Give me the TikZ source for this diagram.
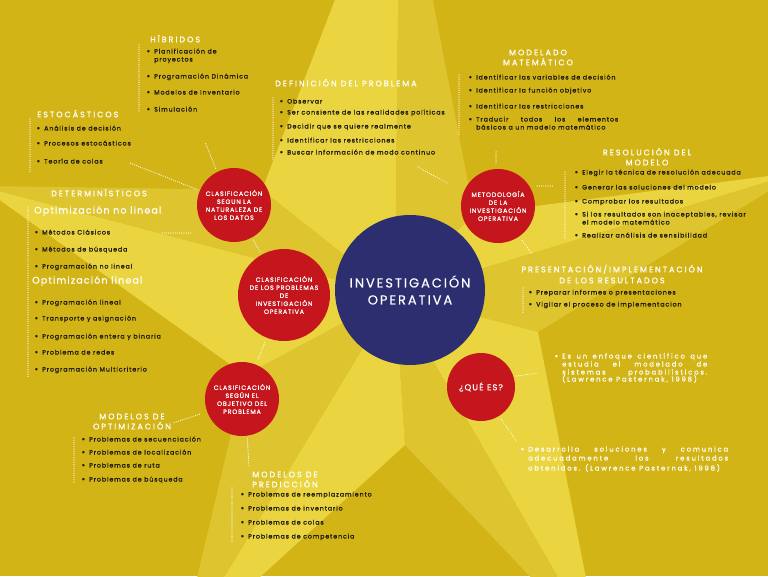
\documentclass[tikz,border=0pt]{standalone}
\usepackage{fontspec}
\setmainfont{Poppins}
\newfontfamily\popI[LetterSpace=14, FakeBold=0.9]{Poppins}
\newfontfamily\popW[LetterSpace=27, FakeBold=0.4]{Poppins}
\newfontfamily\popT[LetterSpace=25, FakeBold=0.7]{Poppins}
\newfontfamily\popC[LetterSpace=13, FakeBold=0.7]{Poppins}
\newfontfamily\popO[LetterSpace=12, FakeBold=0.4]{Poppins}
\newfontfamily\popM[LetterSpace=15, FakeBold=0.3]{Poppins}
\newfontfamily\dv{DejaVu Sans}
\definecolor{bg}{HTML}{D3B417}
\definecolor{starA}{HTML}{EAD540}
\definecolor{starB}{HTML}{DEC52F}
\definecolor{cred}{HTML}{C4161C}
\definecolor{navy}{HTML}{2C2E6F}
\definecolor{ink}{HTML}{1E1A10}
\newcommand\itemf{\popI\fontsize{6.3}{8}\selectfont}
\newcommand\whitef{\popW\fontsize{6.8}{8}\selectfont}
\newcommand\titlef{\popT\fontsize{8}{10}\selectfont}
\newcommand\circf{\popC\fontsize{6.3}{8}\selectfont}
\newcommand\optf{\popO\fontsize{9.5}{11}\selectfont}
\newcommand\mainf{\popM\fontsize{13}{17}\selectfont}
\newcommand\bl[1]{\makebox[7pt][l]{\raisebox{0.6pt}{\dv\fontsize{3.2}{3.2}\selectfont ●}}#1}
\tikzset{
  dotline/.style={draw=white, line width=1.2pt, line cap=round, dash pattern=on 0pt off 2.2pt},
  itm/.style={anchor=west, inner sep=0pt, text height=4.4pt, text depth=1.4pt, text=ink, font=\itemf},
  wit/.style={itm, text=white, font=\whitef},
  ttl/.style={inner sep=0pt, text=white, font=\titlef, text height=5.6pt, text depth=1pt},
  opt/.style={anchor=west, inner sep=0pt, text=white, font=\optf},
  rc/.style={circle, fill=cred, minimum size=#1, inner sep=0pt, text=white, font=\circf, align=center},
}
\begin{document}
\begin{tikzpicture}[x=1pt,y=-1pt]
\useasboundingbox (0,0) rectangle (768,576);
\fill[bg] (0,0) rectangle (768,576);
% star
\coordinate (sc) at (395,295);
\coordinate (tT) at (400,-170);
\coordinate (iTR) at (474,214);
\coordinate (tR) at (800,172);
\coordinate (iBR) at (538,332);
\coordinate (tBR) at (600,650);
\coordinate (iB) at (405,445);
\coordinate (tBL) at (180,650);
\coordinate (iBL) at (245,375);
\coordinate (tL) at (-20,186);
\coordinate (iTL) at (262,190);
\begin{scope}
\clip (0,0) rectangle (768,576);
\fill[starA] (sc)--(iTL)--(tT)--cycle;
\fill[starB] (sc)--(tT)--(iTR)--cycle;
\fill[starA] (sc)--(iTR)--(tR)--cycle;
\fill[starB] (sc)--(tR)--(iBR)--cycle;
\fill[starA] (sc)--(iBR)--(tBR)--cycle;
\fill[starB] (sc)--(tBR)--(iB)--cycle;
\fill[starA] (sc)--(iB)--(tBL)--cycle;
\fill[starB] (sc)--(tBL)--(iBL)--cycle;
\fill[starA] (sc)--(iBL)--(tL)--cycle;
\fill[starB] (sc)--(tL)--(iTL)--cycle;
\end{scope}

% main circles
\node[circle, fill=navy, minimum size=150pt, inner sep=0pt, text=white, font=\mainf, align=center] (io) at (410,290) {INVESTIGACIÓN\\OPERATIVA};
\node[rc=74pt] (c1) at (234,205) {CLASIFICACIÓN\\SEGUN LA\\NATURALEZA DE\\LOS DATOS};
\node[rc=92pt] (c2) at (284,295) {CLASIFICACIÓN\\DE LOS PROBLEMAS\\DE\\INVESTIGACIÓN\\OPERATIVA};
\node[rc=74pt] (c3) at (242,399) {CLASIFICACIÓN\\SEGÚN EL\\OBJETIVO DEL\\PROBLEMA};
\node[rc=74pt] (c4) at (498,206) {METODOLOGÍA\\DE LA\\INVESTIGACIÓN\\OPERATIVA};
\node[rc=68pt, font=\popC\fontsize{8.5}{10}\selectfont] (c5) at (481,387) {¿QUÉ ES?};

% HÍBRIDOS
\node[ttl, anchor=west] (tHib) at (150,40) {HÍBRIDOS};
\node[itm] (h1) at (147,52) {\bl{Planificación de}};
\node[itm] (h1b) at (154,60) {proyectos};
\node[itm] (h2) at (147,77) {\bl{Programación Dinámica}};
\node[itm] (h3) at (147,93) {\bl{Modelos de Inventario}};
\node[itm] (h4) at (147,110) {\bl{Simulación}};
\coordinate (hA) at (139,45); \coordinate (hB) at (139,113);
\draw[dotline] (hA) -- (hB);

% ESTOCÁSTICOS
\node[ttl, anchor=west] (tEst) at (37,115) {ESTOCÁSTICOS};
\foreach \yy/\tt [count=\i] in {129/Análisis de decisión, 144/Procesos estocásticos, 162/Teoría de colas}
  \node[itm] (e\i) at (37,\yy) {\bl{\tt}};
\coordinate (eA) at (30,119); \coordinate (eB) at (30,172);
\draw[dotline] (eA) -- (eB);

% DEFINICIÓN DEL PROBLEMA
\node[ttl, anchor=west] (tDef) at (275,84) {DEFINICIÓN DEL PROBLEMA};
\foreach \yy/\tt [count=\i] in {102/Observar, 113/Ser consiente de las realidades políticas, 127/Decidir que se quiere realmente, 141/Identificar las restricciones, 153/Buscar información de modo continuo}
  \node[itm] (d\i) at (280,\yy) {\bl{\tt}};
\coordinate (dA) at (273,98); \coordinate (dB) at (273,160);
\draw[dotline] (dA) -- (dB);

% MODELADO MATEMÁTICO
\node[ttl] (tMod1) at (538,53) {MODELADO};
\node[ttl] (tMod2) at (538,63) {MATEMÁTICO};
\foreach \yy/\tt [count=\i] in {78/Identificar las variables de decisión, 91/Identificar la función objetivo, 107/Identificar las restricciones}
  \node[itm] (m\i) at (469,\yy) {\bl{\tt}};
\node[itm] (m4) at (469,120) {\bl{\makebox[142pt][s]{Traducir todos los elementos}}};
\node[itm] (m4b) at (476,128) {básicos a un modelo matemático};
\coordinate (mA) at (459,75); \coordinate (mB) at (459,135);
\draw[dotline] (mA) -- (mB);

% RESOLUCIÓN DEL MODELO
\node[ttl] (tRes1) at (647,153) {RESOLUCIÓN DEL};
\node[ttl] (tRes2) at (647,163) {MODELO};
\foreach \yy/\tt [count=\i] in {173/Elegir la técnica de resolución adecuada, 188/Generar las soluciones del modelo, 202/Comprobar los resultados}
  \node[itm] (r\i) at (575,\yy) {\bl{\tt}};
\node[itm] (r4) at (575,215) {\bl{Si los resultados son inaceptables, revisar}};
\node[itm] (r4b) at (582,223) {el modelo matemático};
\node[itm] (r5) at (575,236) {\bl{Realizar análisis de sensibilidad}};
\coordinate (rA) at (565,172); \coordinate (rB) at (565,240);
\draw[dotline] (rA) -- (rB);

% PRESENTACIÓN
\node[ttl] (tPre1) at (612,270) {PRESENTACIÓN/IMPLEMENTACIÓN};
\node[ttl] (tPre2) at (612,281) {DE LOS RESULTADOS};
\node[itm] (p1) at (529,293) {\bl{Preparar informes o presentaciones}};
\node[itm] (p2) at (529,305) {\bl{Vigilar el proceso de implementacion}};
\coordinate (pA) at (523,288); \coordinate (pB) at (523,313);
\draw[dotline] (pA) -- (pB);

% DETERMINÍSTICOS
\node[ttl] (tDet) at (99,194) {DETERMINÍSTICOS};
\node[opt] (oNL) at (34,211) {Optimización no lineal};
\node[opt] (oL) at (32,281) {Optimización lineal};
\foreach \yy/\tt [count=\i] in {233/Métodos Clásicos, 250/Métodos de búsqueda, 267/Programación no lineal, 303/Programación lineal, 319/Transporte y asignación, 337/Programación entera y binaria, 353/Problema de redes, 370/Programación Multicriterio}
  \node[itm] (k\i) at (35,\yy) {\bl{\tt}};
\coordinate (kA) at (28,207); \coordinate (kB) at (28,377);
\draw[dotline] (kA) -- (kB);

% MODELOS DE OPTIMIZACIÓN
\node[ttl] (tOpt1) at (132,417) {MODELOS DE};
\node[ttl] (tOpt2) at (132,427) {OPTIMIZACIÓN};
\foreach \yy/\tt [count=\i] in {440/Problemas de secuenciación, 453/Problemas de localización, 466/Problemas de ruta, 480/Problemas de búsqueda}
  \node[itm] (q\i) at (82,\yy) {\bl{\tt}};
\coordinate (qA) at (74,438); \coordinate (qB) at (74,483);
\draw[dotline] (qA) -- (qB);

% MODELOS DE PREDICCIÓN
\node[ttl] (tPr1) at (285,475) {MODELOS DE};
\node[ttl] (tPr2) at (285,485) {PREDICCIÓN};
\foreach \yy/\tt [count=\i] in {495/Problemas de reemplazamiento, 509/Problemas de inventario, 523/Problemas de colas, 537/Problemas de competencia}
  \node[itm] (w\i) at (241,\yy) {\bl{\tt}};
\coordinate (wA) at (232,488); \coordinate (wB) at (232,542);
\draw[dotline] (wA) -- (wB);

% ¿QUÉ ES?
\node[wit] (x1) at (555,357) {\bl{\makebox[145pt][s]{Es un enfoque científico que}}};
\node[wit] (x1b) at (562,365) {\makebox[145pt][s]{estudia el modelado de}};
\node[wit] (x1c) at (562,373) {\makebox[145pt][s]{sistemas probabilísticos.}};
\node[wit] (x1d) at (562,380) {(Lawrence Pasternak, 1998)};
\node[wit] (x2) at (521,450) {\bl{\makebox[200pt][s]{Desarrolla soluciones y comunica}}};
\node[wit] (x2b) at (528,459) {\makebox[200pt][s]{adecuadamente los resultados}};
\node[wit] (x2c) at (528,469) {obtenidos. (Lawrence Pasternak, 1998)};

% connectors
\coordinate (k1e) at (205,142);
\draw[dotline, shorten <=4pt] (c1.117) -- (k1e);
\coordinate (k2e) at (130,163);
\draw[dotline, shorten <=4pt] (c1.157) -- (k2e);
\coordinate (k3a) at (162,233); \coordinate (k3b) at (192,233);
\draw[dotline] (k3a) -- (k3b);
\draw[dotline, shorten <=3pt, shorten >=3pt] (c1) -- (c2);
\draw[dotline, shorten <=5pt, shorten >=5pt] (c2) -- (c3);
\coordinate (k6e) at (173,423);
\draw[dotline, shorten <=8pt] (c3.200) -- (k6e);
\coordinate (k7e) at (249,466);
\draw[dotline, shorten <=3pt] (c3.-82) -- (k7e);
\coordinate (k8a) at (418,167); \coordinate (k8b) at (447,183);
\draw[dotline] (k8a) -- (k8b);
\coordinate (k9e) at (496,151);
\draw[dotline, shorten <=6pt] (c4.93) -- (k9e);
\coordinate (k10a) at (537,186); \coordinate (k10b) at (553,186);
\draw[dotline] (k10a) -- (k10b);
\coordinate (k11e) at (532,254);
\draw[dotline, shorten <=5pt] (c4.-55) -- (k11e);
\coordinate (k12e) at (538,373);
\draw[dotline, shorten <=3pt] (c5.18) -- (k12e);
\coordinate (k13e) at (517,442);
\draw[dotline, shorten <=4pt] (c5.-58) -- (k13e);
\end{tikzpicture}
\end{document}
